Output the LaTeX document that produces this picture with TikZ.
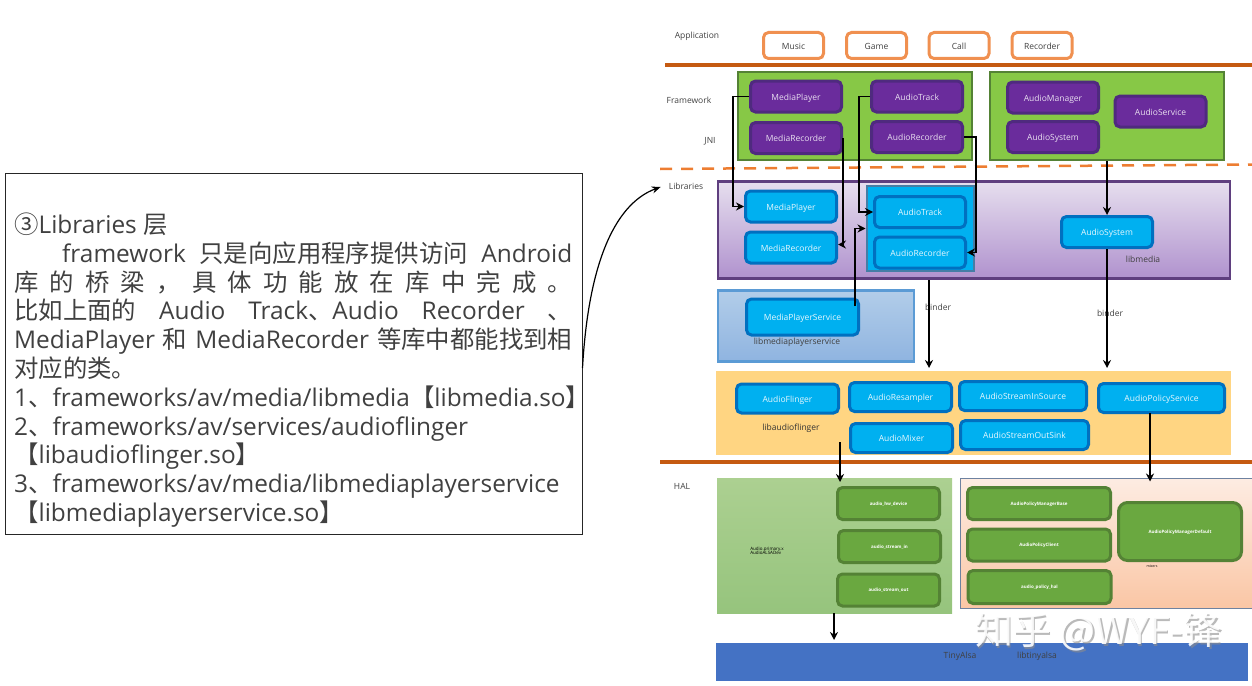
\documentclass[tikz,border=0pt]{standalone}
\usepackage{fontspec}
\usepackage{tikz}
\usetikzlibrary{arrows.meta}
\setmainfont{Open Sans}
\newfontfamily\cjk{Noto Sans CJK SC}
\definecolor{linkorange}{HTML}{C55A11}
\definecolor{dashorange}{HTML}{ED7D31}
\definecolor{textgray}{HTML}{404040}
\definecolor{purplefill}{HTML}{6A2C9C}
\definecolor{purpleedge}{HTML}{4F2A7F}
\tikzset{
  fsize/.style={font=\fontsize{#1}{#1}\selectfont},
  conn/.style={draw=black,line width=1.8pt,-{Stealth[length=8pt,width=8pt]}},
  layerlabel/.style={text=textgray,inner sep=0pt,fsize=8.5},
  box/.style={rounded corners=5pt,line width=3pt,minimum width=91pt,minimum height=31pt,inner sep=0pt,fsize=8.5,text height=7.5pt,text depth=0pt},
  appbox/.style={box,draw=dashorange!85!white,fill=white,text=textgray,minimum width=60pt,minimum height=26pt},
  purplebox/.style={box,draw=purpleedge,fill=purplefill,text=white!85!purplefill},
  bluebox/.style={box,draw={rgb,255:red,0;green,112;blue,192},fill={rgb,255:red,0;green,176;blue,240},text=white!90!cyan},
  greenbox/.style={box,draw={rgb,255:red,84;green,130;blue,53},fill={rgb,255:red,106;green,168;blue,64},text=white,font=\fontsize{4.5}{5}\selectfont\bfseries,text height=3.5pt,minimum width=102pt,minimum height=32pt},
  panel/.style={inner sep=0pt,line width=2.5pt},
  textline/.style={anchor=base west,inner sep=0pt,text=textgray,fsize=24.4},
}
\begin{document}
\begin{tikzpicture}[x=1pt,y=-1pt]
  \useasboundingbox (0,0) rectangle (1252,685);
  % left text
  \node[draw=black!85,line width=1pt,minimum width=577pt,minimum height=361pt,inner sep=0pt] (textbox) at (293.5,354) {};
  \node[textline] (line1) at (14,233) {{\cjk ③}Libraries {\cjk 层}};
  \node[textline] (line2) at (62,262) {\makebox[510pt][s]{framework {\cjk 只是向应用程序提供访问} Android}};
  \node[textline] (line3) at (14,291) {\makebox[558pt][s]{\cjk 库 的 桥 梁 ， 具 体 功 能 放 在 库 中 完 成 。}};
  \node[textline] (line4) at (14,319) {\makebox[558pt][s]{{\cjk 比如上面的} Audio Track{\cjk 、}Audio Recorder {\cjk 、}}};
  \node[textline] (line5) at (14,348) {\makebox[558pt][s]{MediaPlayer {\cjk 和} MediaRecorder {\cjk 等库中都能找到相}}};
  \node[textline] (line6) at (14,377) {\cjk 对应的类。};
  \node[textline] (line7) at (14,406) {1{\cjk 、}frameworks/av/media/libmedia{\cjk 【}libmedia.so{\cjk 】}};
  \node[textline] (line8) at (14,435) {2{\cjk 、}frameworks/av/services/audioflinger};
  \node[textline] (line9) at (14,463) {{\cjk 【}libaudioflinger.so{\cjk 】}};
  \node[textline] (line10) at (14,492) {3{\cjk 、}frameworks/av/media/libmediaplayerservice};
  \node[textline] (line11) at (14,521) {{\cjk 【}libmediaplayerservice.so{\cjk 】}};
  % layer labels
  \node[layerlabel] (applabel) at (697,36.5) {Application};
  \node[layerlabel] (fwlabel) at (689,100.5) {Framework};
  \node[layerlabel] (jnilabel) at (710,141) {JNI};
  \node[layerlabel] (liblabel) at (686,186.5) {Libraries};
  \node[layerlabel] (hallabel) at (682,486) {HAL};
  % layer lines
  \coordinate (lineAl) at (665,65);
  \coordinate (lineAr) at (1252,65);
  \coordinate (dashl) at (660,169);
  \coordinate (dashr) at (1252,164.5);
  \coordinate (lineBl) at (660,462);
  \coordinate (lineBr) at (1252,462);
  \draw[linkorange,line width=3.5pt] (lineAl)--(lineAr);
  \draw[linkorange,line width=3.5pt] (lineBl)--(lineBr);
  \draw[dashorange,line width=2.5pt,dash pattern=on 12pt off 9pt] (dashl)--(dashr);
  % application
  \node[appbox] (music) at (793.5,45.5) {Music};
  \node[appbox] (game) at (876.5,45.5) {Game};
  \node[appbox] (call) at (959,45.5) {Call};
  \node[appbox] (recorder) at (1042,45.5) {Recorder};
  % framework
  \node[panel,draw={rgb,255:red,84;green,130;blue,53},fill={rgb,255:red,135;green,200;blue,70},minimum width=234pt,minimum height=88pt] (fwpanelA) at (855,116) {};
  \node[panel,draw={rgb,255:red,84;green,130;blue,53},fill={rgb,255:red,135;green,200;blue,70},minimum width=234pt,minimum height=88pt] (fwpanelB) at (1107,116) {};
  \node[purplebox] (fwplayer) at (796,96.5) {MediaPlayer};
  \node[purplebox] (fwmrec) at (796,138) {MediaRecorder};
  \node[purplebox] (fwtrack) at (917,96.5) {AudioTrack};
  \node[purplebox] (fwarec) at (917,137) {AudioRecorder};
  \node[purplebox] (fwmanager) at (1053,97.5) {AudioManager};
  \node[purplebox] (fwsystem) at (1053,137) {AudioSystem};
  \node[purplebox] (fwservice) at (1160.5,111.5) {AudioService};
  % libraries
  \node[panel,draw={rgb,255:red,95;green,63;blue,127},top color={rgb,255:red,230;green,222;blue,238},bottom color={rgb,255:red,176;green,146;blue,206},minimum width=512pt,minimum height=97pt] (libpanel) at (974,230) {};
  \node[panel,line width=2pt,draw={rgb,255:red,70;green,125;blue,165},fill={rgb,255:red,0;green,176;blue,240},minimum width=107pt,minimum height=85pt] (trackgroup) at (920,228.5) {};
  \node[bluebox] (libplayer) at (791,206.5) {MediaPlayer};
  \node[bluebox] (libmrec) at (791,247.5) {MediaRecorder};
  \node[bluebox] (libtrack) at (920,212) {AudioTrack};
  \node[bluebox] (libarec) at (920,252.5) {AudioRecorder};
  \node[bluebox] (libsystem) at (1107,232) {AudioSystem};
  \node[layerlabel] (libmedialabel) at (1143,259) {libmedia};
  \node[panel,draw={rgb,255:red,91;green,155;blue,213},top color={rgb,255:red,178;green,205;blue,233},bottom color={rgb,255:red,143;green,180;blue,224},minimum width=196pt,minimum height=71pt] (servicepanel) at (816,326) {};
  \node[bluebox,minimum width=112pt,minimum height=36pt] (mpservice) at (802.5,317) {MediaPlayerService};
  \node[layerlabel] (servicelabel) at (797,342) {libmediaplayerservice};
  \node[layerlabel] (binderA) at (938,307) {binder};
  \node[layerlabel] (binderB) at (1110,313) {binder};
  % audioflinger
  \node[panel,line width=0pt,fill={rgb,255:red,255;green,213;blue,130},minimum width=515pt,minimum height=84pt] (flingerpanel) at (973.5,413) {};
  \node[bluebox,minimum width=102pt,minimum height=29pt] (flinger) at (787.5,398.5) {AudioFlinger};
  \node[bluebox,minimum width=102pt,minimum height=29pt] (resampler) at (900.5,397) {AudioResampler};
  \node[bluebox,minimum width=102pt,minimum height=29pt] (mixer) at (901.5,438) {AudioMixer};
  \node[bluebox,minimum width=127pt,minimum height=29pt] (insource) at (1023,396) {AudioStreamInSource};
  \node[bluebox,minimum width=128pt,minimum height=29pt] (outsink) at (1024.5,435) {AudioStreamOutSink};
  \node[bluebox,minimum width=126pt,minimum height=29pt] (policyservice) at (1161.5,398) {AudioPolicyService};
  \node[layerlabel,text=black!80] (flingerlabel) at (791,428) {libaudioflinger};
  % hal
  \node[panel,line width=0pt,top color={rgb,255:red,172;green,208;blue,145},bottom color={rgb,255:red,150;green,196;blue,125},minimum width=235pt,minimum height=135pt] (halpanel) at (834.5,545.5) {};
  \node[panel,line width=1pt,draw={rgb,255:red,110;green,130;blue,160},top color={rgb,255:red,253;green,236;blue,226},bottom color={rgb,255:red,250;green,198;blue,165},minimum width=292pt,minimum height=130pt] (policypanel) at (1106,543) {};
  \node[greenbox] (hwdevice) at (888.5,503.5) {audio\_hw\_device};
  \node[greenbox] (streamin) at (889.5,546.5) {audio\_stream\_in};
  \node[greenbox] (streamout) at (888.5,590) {audio\_stream\_out};
  \node[text=black,inner sep=0pt,fsize=4.5,align=left] (primarylabel) at (767,551) {Audio.primary.x\\AudioALSADev ~~};
  \node[greenbox,minimum width=143pt] (managerbase) at (1039,503.5) {AudioPolicyManagerBase};
  \node[greenbox,minimum width=143pt] (policyclient) at (1039,545) {AudioPolicyClient};
  \node[greenbox,minimum width=143pt,minimum height=33pt] (policyhal) at (1039.5,587) {audio\_policy\_hal};
  \node[greenbox,minimum width=123pt,minimum height=58pt,rounded corners=9pt] (managerdefault) at (1180,531.5) {AudioPolicyManagerDefault};
  \node[text=black,inner sep=0pt,fsize=3.5] (mixerlabel) at (1152,566) {mixers};
  % tinyalsa
  \node[panel,line width=0pt,fill={rgb,255:red,68;green,114;blue,196},minimum width=532pt,minimum height=38pt] (tinypanel) at (982,662) {};
  \node[layerlabel,text=black!75] (tinylabel) at (960,656) {TinyAlsa};
  \node[layerlabel,text=black!75] (tinylib) at (1037,656) {libtinyalsa};
  % connectors
  \coordinate (binderstart) at (929,280);
  \coordinate (mpup) at (855,306);
  \coordinate (hwstart) at (840,442);
  \coordinate (policystart) at (1150,413);
  \coordinate (alsastart) at (834,613);
  \draw[draw=black,line width=1.2pt,-{Stealth[length=9pt,width=7pt]},shorten >=1pt] ([yshift=-14pt]textbox.east) .. controls (588,270) and (612,205) .. ([xshift=-7pt]liblabel.west);
  \draw[conn] (fwplayer.west)--++(-16,0)|-(libplayer.west);
  \draw[conn] (fwtrack.west)--++(-11,0)|-(libtrack.west);
  \draw[conn] (fwmrec.east)|-([yshift=3pt]libmrec.east);
  \draw[conn] (fwarec.east)--++(12,0)|-(libarec.east);
  \draw[conn] (fwpanelB.south)--(libsystem.north);
  \draw[conn] (mpup)|-(trackgroup.west);
  \draw[conn,shorten >=3pt] (binderstart)--(binderstart|-flingerpanel.north);
  \draw[conn,shorten >=3pt] (libsystem.south)--(libsystem.south|-flingerpanel.north);
  \draw[conn,shorten >=-4pt] (hwstart)--(hwstart|-halpanel.north);
  \draw[conn,shorten >=-4pt] (policystart)--(policystart|-policypanel.north);
  \draw[conn,shorten >=3pt] (alsastart)--(alsastart|-tinypanel.north);
  % watermark
  \node[text=black!45,opacity=0.6,inner sep=0pt,fsize=38] (markshadow) at (1100,633.5) {\cjk 知乎 @WYF-锋};
  \node[text=white,opacity=0.9,inner sep=0pt,fsize=38] (mark) at (1098.5,632) {\cjk 知乎 @WYF-锋};
\end{tikzpicture}
\end{document}
